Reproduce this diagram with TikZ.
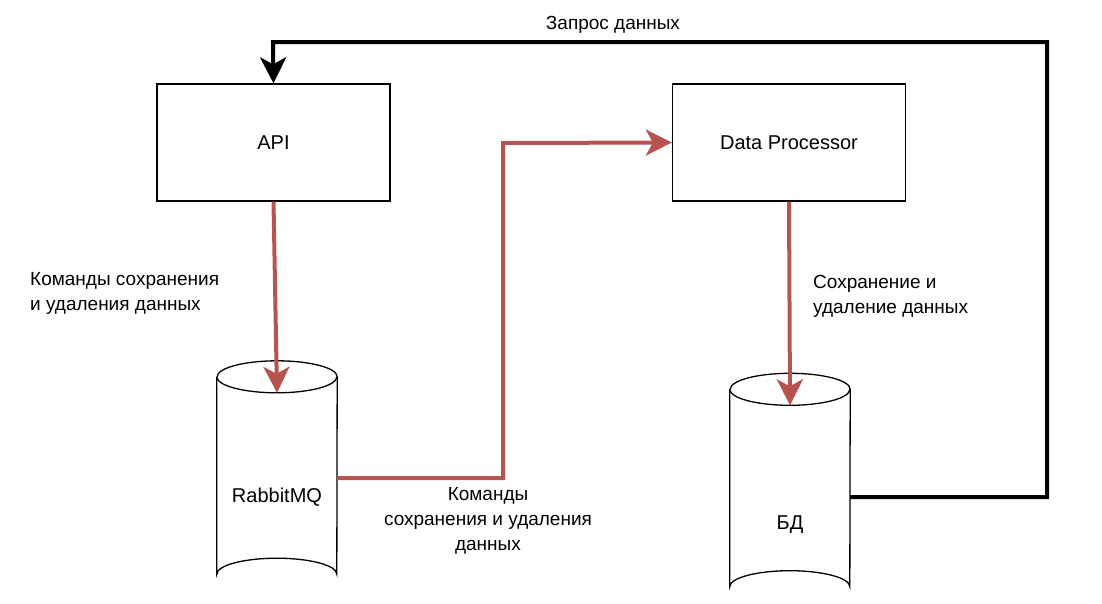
\documentclass[tikz,border=0pt]{standalone}
\usepackage{fontspec}
\setmainfont{Liberation Sans}
\usetikzlibrary{shapes.geometric,arrows.meta}
\definecolor{redl}{HTML}{B85450}
\begin{document}
\begin{tikzpicture}[x=1pt,y=-1pt,
  box/.style={draw,line width=1.3pt,minimum width=233pt,minimum height=117pt,font=\fontsize{20}{24}\selectfont},
  db/.style={inner sep=0pt,minimum width=120pt,minimum height=165pt},
  cyl/.style={draw,line width=1.3pt,fill=white},
  lbl/.style={font=\fontsize{19}{25}\selectfont,inner sep=0pt},
  redarr/.style={draw=redl,line width=4pt,-{Stealth[length=26pt,width=26pt,inset=7pt]}},
  blkarr/.style={draw=black,line width=4pt,-{Stealth[length=26pt,width=26pt,inset=7pt]}}]
\useasboundingbox (0,0) rectangle (1102,603);
\node[box] (api) at (273.5,142.5) {API};
\node[box] (dp) at (789,142.5) {Data Processor};
\node[db] (mq) at (277,475.5) {};
\node[db] (bd) at (790,488) {};
\foreach \n in {mq,bd}{
  \draw[cyl] ([yshift=16pt]\n.north west) -- ([yshift=-16pt]\n.south west)
    arc[start angle=180,end angle=360,x radius=60pt,y radius=-16pt]
    -- ([yshift=16pt]\n.north east)
    arc[start angle=0,end angle=-180,x radius=60pt,y radius=-16pt];
  \draw[cyl] ([yshift=16pt]\n.north west)
    arc[start angle=180,end angle=0,x radius=60pt,y radius=-16pt];
}
\node[font=\fontsize{20}{24}\selectfont] (mqt) at (277,497) {RabbitMQ};
\node[font=\fontsize{20}{24}\selectfont] (bdt) at (790,525) {БД};
\coordinate (c1) at (503,478);
\coordinate (c2) at (503,143);
\coordinate (b1) at (1047,497);
\coordinate (b2) at (1047,42);
\coordinate (b3) at (273,42);
\draw[redarr] (api.south) -- (mq.north);
\draw[redarr] (mq.east |- c1) -- (c1) -- (c2) -- (dp.west);
\draw[redarr] (dp.south) -- (bd.north);
\draw[blkarr] (bd.east |- b1) -- (b1) -- (b2) -- (b3) -- (api.north);
\node[lbl] (t1) at (613,25) {Запрос данных};
\node[lbl,align=left,anchor=west] (t2) at (30,293) {Команды сохранения\\и удаления данных};
\node[lbl,align=center] (t3) at (488,521) {Команды\\сохранения и удаления\\данных};
\node[lbl,align=left,anchor=west] (t4) at (813,296) {Сохранение и\\удаление данных};
\end{tikzpicture}
\end{document}
